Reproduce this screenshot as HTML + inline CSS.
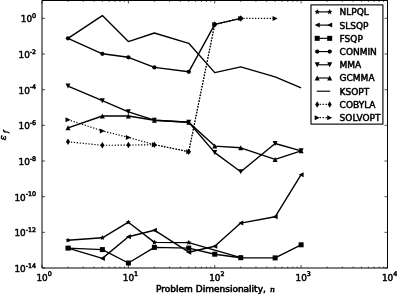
<!DOCTYPE html>
<html><head><meta charset="utf-8"><title>Problem Dimensionality</title>
<style>html,body{margin:0;padding:0;background:#fff}svg{display:block}</style>
</head><body>
<svg width="397" height="294" viewBox="0 0 397 294">
<rect x="0" y="0" width="397" height="294" fill="#fff"/>
<polyline points="68.00,141.80 102.37,145.30 128.38,145.10 154.38,144.70 188.75,151.70 214.75,24.40 240.75,18.40" fill="none" stroke="#000" stroke-width="1.15" stroke-dasharray="1.3,1.63" stroke-linejoin="round"/>
<g fill="#000" stroke="none"><polygon points="68.00,138.55 70.00,141.80 68.00,145.05 66.00,141.80"/><polygon points="102.37,142.05 104.37,145.30 102.37,148.55 100.37,145.30"/><polygon points="128.38,141.85 130.38,145.10 128.38,148.35 126.38,145.10"/><polygon points="154.38,141.45 156.38,144.70 154.38,147.95 152.38,144.70"/><polygon points="188.75,148.45 190.75,151.70 188.75,154.95 186.75,151.70"/><polygon points="214.75,21.15 216.75,24.40 214.75,27.65 212.75,24.40"/><polygon points="240.75,15.15 242.75,18.40 240.75,21.65 238.75,18.40"/></g>

<polyline points="68.00,119.70 102.37,130.90 128.38,137.40 154.38,144.70 188.75,151.70 214.75,24.40 240.75,18.40 275.12,18.40" fill="none" stroke="#000" stroke-width="1.15" stroke-dasharray="1.3,1.63" stroke-linejoin="round"/>
<g fill="#000" stroke="none"><polygon points="70.50,119.70 65.50,117.20 65.50,122.20"/><polygon points="104.87,130.90 99.87,128.40 99.87,133.40"/><polygon points="130.88,137.40 125.88,134.90 125.88,139.90"/><polygon points="156.88,144.70 151.88,142.20 151.88,147.20"/><polygon points="191.25,151.70 186.25,149.20 186.25,154.20"/><polygon points="217.25,24.40 212.25,21.90 212.25,26.90"/><polygon points="243.25,18.40 238.25,15.90 238.25,20.90"/><polygon points="277.62,18.40 272.62,15.90 272.62,20.90"/></g>

<polyline points="68.00,240.30 102.37,237.80 128.38,222.20 154.38,242.40 188.75,242.60 240.75,257.70" fill="none" stroke="#000" stroke-width="1.40" stroke-linejoin="round"/>
<g fill="#000" stroke="none"><polygon points="68.00,237.50 68.77,239.25 70.66,239.43 69.24,240.70 69.65,242.57 68.00,241.60 66.36,242.57 66.77,240.70 65.34,239.43 67.24,239.25"/><polygon points="102.37,235.00 103.14,236.75 105.04,236.93 103.61,238.20 104.02,240.07 102.37,239.10 100.73,240.07 101.14,238.20 99.71,236.93 101.61,236.75"/><polygon points="128.38,219.40 129.14,221.15 131.04,221.33 129.61,222.60 130.02,224.47 128.38,223.50 126.73,224.47 127.14,222.60 125.71,221.33 127.61,221.15"/><polygon points="154.38,239.60 155.14,241.35 157.04,241.53 155.61,242.80 156.02,244.67 154.38,243.70 152.73,244.67 153.14,242.80 151.71,241.53 153.61,241.35"/><polygon points="188.75,239.80 189.51,241.55 191.41,241.73 189.98,243.00 190.39,244.87 188.75,243.90 187.10,244.87 187.51,243.00 186.09,241.73 187.98,241.55"/><polygon points="240.75,254.90 241.52,256.65 243.41,256.83 241.99,258.10 242.40,259.97 240.75,259.00 239.11,259.97 239.52,258.10 238.09,256.83 239.99,256.65"/></g>

<polyline points="68.00,248.10 102.37,258.40 128.38,236.80 154.38,230.20 188.75,252.20 214.75,246.20 240.75,223.10 275.12,216.80 301.12,174.70" fill="none" stroke="#000" stroke-width="1.40" stroke-linejoin="round"/>
<g fill="#000" stroke="none"><polygon points="65.50,248.10 70.50,245.60 70.50,250.60"/><polygon points="99.87,258.40 104.87,255.90 104.87,260.90"/><polygon points="125.88,236.80 130.88,234.30 130.88,239.30"/><polygon points="151.88,230.20 156.88,227.70 156.88,232.70"/><polygon points="186.25,252.20 191.25,249.70 191.25,254.70"/><polygon points="212.25,246.20 217.25,243.70 217.25,248.70"/><polygon points="238.25,223.10 243.25,220.60 243.25,225.60"/><polygon points="272.62,216.80 277.62,214.30 277.62,219.30"/><polygon points="298.62,174.70 303.62,172.20 303.62,177.20"/></g>

<polyline points="68.00,248.10 102.37,249.60 128.38,263.00 154.38,247.40 188.75,248.10 214.75,254.20 240.75,257.70 275.12,257.90 301.12,244.80" fill="none" stroke="#000" stroke-width="1.40" stroke-linejoin="round"/>
<g fill="#000" stroke="none"><rect x="65.50" y="245.60" width="5.00" height="5.00"/><rect x="99.87" y="247.10" width="5.00" height="5.00"/><rect x="125.88" y="260.50" width="5.00" height="5.00"/><rect x="151.88" y="244.90" width="5.00" height="5.00"/><rect x="186.25" y="245.60" width="5.00" height="5.00"/><rect x="212.25" y="251.70" width="5.00" height="5.00"/><rect x="238.25" y="255.20" width="5.00" height="5.00"/><rect x="272.62" y="255.40" width="5.00" height="5.00"/><rect x="298.62" y="242.30" width="5.00" height="5.00"/></g>

<polyline points="68.00,38.30 102.37,53.80 128.38,57.30 154.38,67.40 188.75,71.80 214.75,24.40 240.75,18.40" fill="none" stroke="#000" stroke-width="1.40" stroke-linejoin="round"/>
<g fill="#000" stroke="none"><circle cx="68.00" cy="38.30" r="2.15"/><circle cx="102.37" cy="53.80" r="2.15"/><circle cx="128.38" cy="57.30" r="2.15"/><circle cx="154.38" cy="67.40" r="2.15"/><circle cx="188.75" cy="71.80" r="2.15"/><circle cx="214.75" cy="24.40" r="2.15"/><circle cx="240.75" cy="18.40" r="2.15"/></g>

<polyline points="68.00,86.10 102.37,100.70 128.38,111.80 154.38,120.20 188.75,122.20 214.75,152.60 240.75,171.80 275.12,143.50 301.12,150.80" fill="none" stroke="#000" stroke-width="1.40" stroke-linejoin="round"/>
<g fill="#000" stroke="none"><polygon points="68.00,88.60 65.50,83.60 70.50,83.60"/><polygon points="102.37,103.20 99.87,98.20 104.87,98.20"/><polygon points="128.38,114.30 125.88,109.30 130.88,109.30"/><polygon points="154.38,122.70 151.88,117.70 156.88,117.70"/><polygon points="188.75,124.70 186.25,119.70 191.25,119.70"/><polygon points="214.75,155.10 212.25,150.10 217.25,150.10"/><polygon points="240.75,174.30 238.25,169.30 243.25,169.30"/><polygon points="275.12,146.00 272.62,141.00 277.62,141.00"/><polygon points="301.12,153.30 298.62,148.30 303.62,148.30"/></g>

<polyline points="68.00,127.80 102.37,116.00 128.38,116.00 154.38,120.20 188.75,122.20 214.75,146.10 240.75,147.80 275.12,159.40 301.12,150.80" fill="none" stroke="#000" stroke-width="1.40" stroke-linejoin="round"/>
<g fill="#000" stroke="none"><polygon points="68.00,125.30 65.50,130.30 70.50,130.30"/><polygon points="102.37,113.50 99.87,118.50 104.87,118.50"/><polygon points="128.38,113.50 125.88,118.50 130.88,118.50"/><polygon points="154.38,117.70 151.88,122.70 156.88,122.70"/><polygon points="188.75,119.70 186.25,124.70 191.25,124.70"/><polygon points="214.75,143.60 212.25,148.60 217.25,148.60"/><polygon points="240.75,145.30 238.25,150.30 243.25,150.30"/><polygon points="275.12,156.90 272.62,161.90 277.62,161.90"/><polygon points="301.12,148.30 298.62,153.30 303.62,153.30"/></g>

<polyline points="68.00,38.30 102.37,15.60 128.38,41.60 154.38,33.00 188.75,43.30 214.75,72.60 240.75,66.90 275.12,76.90 301.12,87.90" fill="none" stroke="#000" stroke-width="1.40" stroke-linejoin="round"/>

<line x1="42.00" y1="0.50" x2="387.50" y2="0.50" stroke="#000" stroke-width="1"/>
<line x1="42.00" y1="268.00" x2="387.50" y2="268.00" stroke="#000" stroke-width="1"/>
<line x1="42.00" y1="0.50" x2="42.00" y2="268.00" stroke="#000" stroke-width="1"/>
<line x1="387.50" y1="0.50" x2="387.50" y2="268.00" stroke="#000" stroke-width="1"/>
<path d="M42.00,268.00v-3.0M42.00,0.50v3.0M68.00,268.00v-1.4M68.00,0.50v1.4M83.21,268.00v-1.4M83.21,0.50v1.4M94.00,268.00v-1.4M94.00,0.50v1.4M102.37,268.00v-1.4M102.37,0.50v1.4M109.21,268.00v-1.4M109.21,0.50v1.4M115.00,268.00v-1.4M115.00,0.50v1.4M120.00,268.00v-1.4M120.00,0.50v1.4M124.42,268.00v-1.4M124.42,0.50v1.4M128.38,268.00v-3.0M128.38,0.50v3.0M154.38,268.00v-1.4M154.38,0.50v1.4M169.59,268.00v-1.4M169.59,0.50v1.4M180.38,268.00v-1.4M180.38,0.50v1.4M188.75,268.00v-1.4M188.75,0.50v1.4M195.59,268.00v-1.4M195.59,0.50v1.4M201.37,268.00v-1.4M201.37,0.50v1.4M206.38,268.00v-1.4M206.38,0.50v1.4M210.80,268.00v-1.4M210.80,0.50v1.4M214.75,268.00v-3.0M214.75,0.50v3.0M240.75,268.00v-1.4M240.75,0.50v1.4M255.96,268.00v-1.4M255.96,0.50v1.4M266.75,268.00v-1.4M266.75,0.50v1.4M275.12,268.00v-1.4M275.12,0.50v1.4M281.96,268.00v-1.4M281.96,0.50v1.4M287.75,268.00v-1.4M287.75,0.50v1.4M292.75,268.00v-1.4M292.75,0.50v1.4M297.17,268.00v-1.4M297.17,0.50v1.4M301.12,268.00v-3.0M301.12,0.50v3.0M327.13,268.00v-1.4M327.13,0.50v1.4M342.34,268.00v-1.4M342.34,0.50v1.4M353.13,268.00v-1.4M353.13,0.50v1.4M361.50,268.00v-1.4M361.50,0.50v1.4M368.34,268.00v-1.4M368.34,0.50v1.4M374.12,268.00v-1.4M374.12,0.50v1.4M379.13,268.00v-1.4M379.13,0.50v1.4M383.55,268.00v-1.4M383.55,0.50v1.4M387.50,268.00v-3.0M387.50,0.50v3.0M42.00,18.33h3.0M387.50,18.33h-3.0M42.00,54.00h3.0M387.50,54.00h-3.0M42.00,89.67h3.0M387.50,89.67h-3.0M42.00,125.33h3.0M387.50,125.33h-3.0M42.00,161.00h3.0M387.50,161.00h-3.0M42.00,196.67h3.0M387.50,196.67h-3.0M42.00,232.33h3.0M387.50,232.33h-3.0M42.00,268.00h3.0M387.50,268.00h-3.0" stroke="#000" stroke-width="0.7" fill="none"/>
<g font-family="'DejaVu Sans','Liberation Sans',sans-serif" fill="#000" stroke="#000" stroke-width="0.5" stroke-linejoin="round">
<text x="36.2" y="22.23" text-anchor="end" font-size="8.9">10<tspan dy="-4.3" font-size="6.4">0</tspan></text>
<text x="36.2" y="57.90" text-anchor="end" font-size="8.9">10<tspan dy="-4.3" font-size="6.4">-2</tspan></text>
<text x="36.2" y="93.57" text-anchor="end" font-size="8.9">10<tspan dy="-4.3" font-size="6.4">-4</tspan></text>
<text x="36.2" y="129.23" text-anchor="end" font-size="8.9">10<tspan dy="-4.3" font-size="6.4">-6</tspan></text>
<text x="36.2" y="164.90" text-anchor="end" font-size="8.9">10<tspan dy="-4.3" font-size="6.4">-8</tspan></text>
<text x="36.2" y="200.57" text-anchor="end" font-size="8.9">10<tspan dy="-4.3" font-size="6.4">-10</tspan></text>
<text x="36.2" y="236.23" text-anchor="end" font-size="8.9">10<tspan dy="-4.3" font-size="6.4">-12</tspan></text>
<text x="36.2" y="271.90" text-anchor="end" font-size="8.9">10<tspan dy="-4.3" font-size="6.4">-14</tspan></text>
<text x="44.10" y="280.7" text-anchor="middle" font-size="8.9">10<tspan dy="-4.3" font-size="6.4">0</tspan></text>
<text x="130.47" y="280.7" text-anchor="middle" font-size="8.9">10<tspan dy="-4.3" font-size="6.4">1</tspan></text>
<text x="216.85" y="280.7" text-anchor="middle" font-size="8.9">10<tspan dy="-4.3" font-size="6.4">2</tspan></text>
<text x="303.23" y="280.7" text-anchor="middle" font-size="8.9">10<tspan dy="-4.3" font-size="6.4">3</tspan></text>
<text x="389.60" y="280.7" text-anchor="middle" font-size="8.9">10<tspan dy="-4.3" font-size="6.4">4</tspan></text>
<text x="156.1" y="291.8" font-size="9.0" stroke-width="0.6">Problem Dimensionality, <tspan dx="1.2" font-family="'DejaVu Serif','Liberation Serif',serif" font-style="italic" font-size="7.6">n</tspan></text>
<text transform="translate(6.1,140.3) rotate(-90)" font-family="'DejaVu Serif','Liberation Serif',serif" font-style="italic" font-size="9.5">ε<tspan dx="2.2" dy="2.1" font-size="6.5">f</tspan></text>
<rect x="311.00" y="4.80" width="71.90" height="119.20" fill="#fff" stroke="#1a1a1a" stroke-width="1.25"/>
<line x1="316.7" y1="11.90" x2="330.2" y2="11.90" stroke="#000" stroke-width="1.15"/>
<g fill="#000" stroke="none"><polygon points="317.20,9.10 317.96,10.85 319.86,11.03 318.44,12.30 318.85,14.17 317.20,13.20 315.55,14.17 315.96,12.30 314.54,11.03 316.44,10.85"/><polygon points="329.70,9.10 330.46,10.85 332.36,11.03 330.94,12.30 331.35,14.17 329.70,13.20 328.05,14.17 328.46,12.30 327.04,11.03 328.94,10.85"/></g>
<text x="339.6" y="15.30" font-size="9.0">NLPQL</text>
<line x1="316.7" y1="25.12" x2="330.2" y2="25.12" stroke="#000" stroke-width="1.15"/>
<g fill="#000" stroke="none"><polygon points="314.70,25.12 319.70,22.62 319.70,27.62"/><polygon points="327.20,25.12 332.20,22.62 332.20,27.62"/></g>
<text x="339.6" y="28.52" font-size="9.0">SLSQP</text>
<line x1="316.7" y1="38.34" x2="330.2" y2="38.34" stroke="#000" stroke-width="1.15"/>
<g fill="#000" stroke="none"><rect x="314.70" y="35.84" width="5.00" height="5.00"/><rect x="327.20" y="35.84" width="5.00" height="5.00"/></g>
<text x="339.6" y="41.74" font-size="9.0">FSQP</text>
<line x1="316.7" y1="51.56" x2="330.2" y2="51.56" stroke="#000" stroke-width="1.15"/>
<g fill="#000" stroke="none"><circle cx="317.20" cy="51.56" r="2.15"/><circle cx="329.70" cy="51.56" r="2.15"/></g>
<text x="339.6" y="54.96" font-size="9.0">CONMIN</text>
<line x1="316.7" y1="64.78" x2="330.2" y2="64.78" stroke="#000" stroke-width="1.15"/>
<g fill="#000" stroke="none"><polygon points="317.20,67.28 314.70,62.28 319.70,62.28"/><polygon points="329.70,67.28 327.20,62.28 332.20,62.28"/></g>
<text x="339.6" y="68.18" font-size="9.0">MMA</text>
<line x1="316.7" y1="78.00" x2="330.2" y2="78.00" stroke="#000" stroke-width="1.15"/>
<g fill="#000" stroke="none"><polygon points="317.20,75.50 314.70,80.50 319.70,80.50"/><polygon points="329.70,75.50 327.20,80.50 332.20,80.50"/></g>
<text x="339.6" y="81.40" font-size="9.0">GCMMA</text>
<line x1="316.7" y1="91.22" x2="330.2" y2="91.22" stroke="#000" stroke-width="1.15"/>
<text x="339.6" y="94.62" font-size="9.0">KSOPT</text>
<line x1="316.7" y1="104.44" x2="330.2" y2="104.44" stroke="#000" stroke-width="1.15" stroke-dasharray="1.3,1.63"/>
<g fill="#000" stroke="none"><polygon points="317.20,101.19 319.20,104.44 317.20,107.69 315.20,104.44"/><polygon points="329.70,101.19 331.70,104.44 329.70,107.69 327.70,104.44"/></g>
<text x="339.6" y="107.84" font-size="9.0">COBYLA</text>
<line x1="316.7" y1="117.66" x2="330.2" y2="117.66" stroke="#000" stroke-width="1.15" stroke-dasharray="1.3,1.63"/>
<g fill="#000" stroke="none"><polygon points="319.70,117.66 314.70,115.16 314.70,120.16"/><polygon points="332.20,117.66 327.20,115.16 327.20,120.16"/></g>
<text x="339.6" y="121.06" font-size="9.0">SOLVOPT</text>
</g>
</svg>
</body></html>
